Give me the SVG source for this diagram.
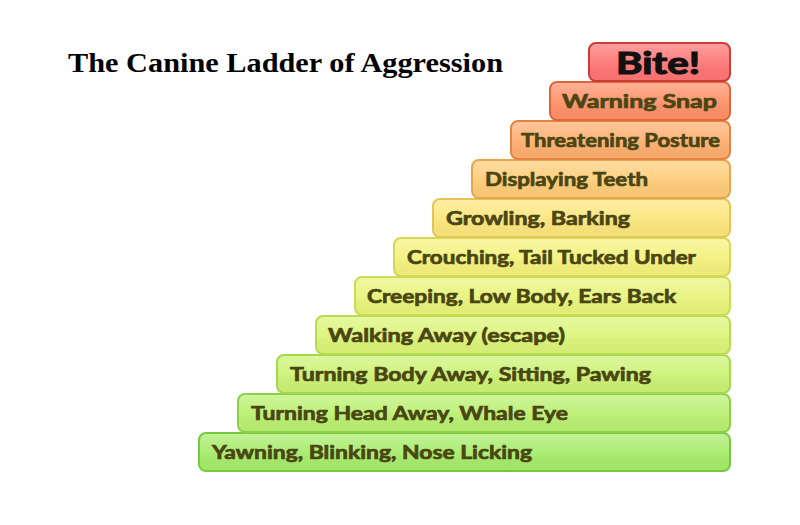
<svg xmlns="http://www.w3.org/2000/svg" width="800" height="525" viewBox="0 0 800 525">
<style>
.bar{stroke-width:2}
.lbl{font-family:Lato,"Open Sans","DejaVu Sans",sans-serif;font-weight:bold;font-size:19px;fill:#4a4612;stroke:#4a4612;stroke-width:0.7px}
.title{font-family:"Liberation Serif","Times New Roman",serif;font-weight:bold;font-size:28px;fill:#000}
</style>
<defs>
<linearGradient id="sheen" x1="0" y1="0" x2="0" y2="1">
<stop offset="0" stop-color="#fff" stop-opacity="0.3"/>
<stop offset="0.5" stop-color="#fff" stop-opacity="0.08"/>
<stop offset="1" stop-color="#000" stop-opacity="0.03"/>
</linearGradient>
</defs>
<rect width="800" height="525" fill="#fff"/>
<text class="title" x="68" y="72" textLength="435" lengthAdjust="spacingAndGlyphs">The Canine Ladder of Aggression</text>
<g id="yawning"><rect class="bar" x="199" y="433" width="531" height="38" rx="7" fill="#a6ec6a" stroke="#76c83e"/><rect x="200" y="434" width="529" height="36" rx="6" fill="url(#sheen)"/><text class="lbl" x="212" y="459" textLength="320" lengthAdjust="spacingAndGlyphs">Yawning, Blinking, Nose Licking</text></g>
<g id="turning-head"><rect class="bar" x="238" y="394" width="492" height="38" rx="7" fill="#baf070" stroke="#8cd048"/><rect x="239" y="395" width="490" height="36" rx="6" fill="url(#sheen)"/><text class="lbl" x="251" y="420" textLength="317" lengthAdjust="spacingAndGlyphs">Turning Head Away, Whale Eye</text></g>
<g id="turning-body"><rect class="bar" x="277" y="355" width="453" height="38" rx="7" fill="#ccf274" stroke="#a2d84c"/><rect x="278" y="356" width="451" height="36" rx="6" fill="url(#sheen)"/><text class="lbl" x="290" y="381" textLength="361" lengthAdjust="spacingAndGlyphs">Turning Body Away, Sitting, Pawing</text></g>
<g id="walking"><rect class="bar" x="316" y="316" width="414" height="38" rx="7" fill="#dcf478" stroke="#b8dc50"/><rect x="317" y="317" width="412" height="36" rx="6" fill="url(#sheen)"/><text class="lbl" x="328" y="342" textLength="237" lengthAdjust="spacingAndGlyphs">Walking Away (escape)</text></g>
<g id="creeping"><rect class="bar" x="355" y="277" width="375" height="38" rx="7" fill="#e8f47a" stroke="#c8dc54"/><rect x="356" y="278" width="373" height="36" rx="6" fill="url(#sheen)"/><text class="lbl" x="367" y="303" textLength="309" lengthAdjust="spacingAndGlyphs">Creeping, Low Body, Ears Back</text></g>
<g id="crouching"><rect class="bar" x="394" y="238" width="336" height="38" rx="7" fill="#f4f27c" stroke="#d8d656"/><rect x="395" y="239" width="334" height="36" rx="6" fill="url(#sheen)"/><text class="lbl" x="407" y="264" textLength="289" lengthAdjust="spacingAndGlyphs">Crouching, Tail Tucked Under</text></g>
<g id="growling"><rect class="bar" x="433" y="199" width="297" height="38" rx="7" fill="#fde67c" stroke="#e4c456"/><rect x="434" y="200" width="295" height="36" rx="6" fill="url(#sheen)"/><text class="lbl" x="446" y="225" textLength="184" lengthAdjust="spacingAndGlyphs">Growling, Barking</text></g>
<g id="displaying"><rect class="bar" x="472" y="160" width="258" height="38" rx="7" fill="#ffcc78" stroke="#e6a64e"/><rect x="473" y="161" width="256" height="36" rx="6" fill="url(#sheen)"/><text class="lbl" x="485" y="186" textLength="163" lengthAdjust="spacingAndGlyphs">Displaying Teeth</text></g>
<g id="threatening"><rect class="bar" x="511" y="121" width="219" height="38" rx="7" fill="#ffae70" stroke="#e4843e"/><rect x="512" y="122" width="217" height="36" rx="6" fill="url(#sheen)"/><text class="lbl" x="521" y="147" textLength="199" lengthAdjust="spacingAndGlyphs">Threatening Posture</text></g>
<g id="warning"><rect class="bar" x="550" y="82" width="180" height="38" rx="7" fill="#ff9068" stroke="#e0643a"/><rect x="551" y="83" width="178" height="36" rx="6" fill="url(#sheen)"/><text class="lbl" x="562" y="108" textLength="155" lengthAdjust="spacingAndGlyphs">Warning Snap</text></g>
<g id="bite"><rect class="bar" x="589" y="43" width="141" height="38" rx="7" fill="#ff7474" stroke="#cc3a3a"/><rect x="590" y="44" width="139" height="36" rx="6" fill="url(#sheen)"/><text class="lbl" x="616" y="74" style="font-size:31px;fill:#111;stroke:#111;stroke-width:1.2px" textLength="84" lengthAdjust="spacingAndGlyphs">Bite!</text></g>
</svg>
